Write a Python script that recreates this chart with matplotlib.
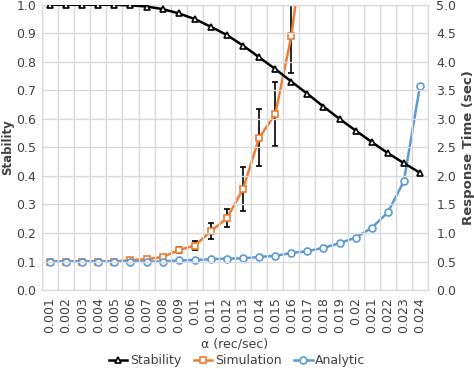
import matplotlib

matplotlib.use("Agg")
import matplotlib.pyplot as plt
import numpy as np

# alpha categories (rec/sec)
alpha_labels = ["0.001", "0.002", "0.003", "0.004", "0.005", "0.006", "0.007", "0.008",
                "0.009", "0.01", "0.011", "0.012", "0.013", "0.014", "0.015", "0.016",
                "0.017", "0.018", "0.019", "0.02", "0.021", "0.022", "0.023", "0.024"]

stability = [1.0, 1.0, 1.0, 1.0, 1.0, 0.998, 0.994, 0.985, 0.97, 0.95, 0.923, 0.894,
             0.857, 0.816, 0.775, 0.731, 0.688, 0.643, 0.600, 0.559, 0.519, 0.48, 0.445, 0.411]

# response time (sec), right axis
simulation = [0.5, 0.5, 0.5, 0.5, 0.5, 0.525, 0.54, 0.58, 0.70, 0.78, 1.03, 1.26,
              1.77, 2.67, 3.08, 4.45, 6.6]
sim_err = [0.0, 0.0, 0.0, 0.0, 0.0, 0.0, 0.0, 0.02, 0.05, 0.08, 0.14, 0.16,
           0.38, 0.5, 0.56, 0.64, 0.0]
analytic = [0.5, 0.5, 0.5, 0.5, 0.5, 0.5, 0.5, 0.5, 0.52, 0.525, 0.54, 0.55,
            0.555, 0.58, 0.60, 0.65, 0.68, 0.74, 0.82, 0.92, 1.09, 1.36, 1.91, 3.58]

BLACK = "#000000"
ORANGE = "#ED7D31"
BLUE = "#5B9BD5"
GRID = "#D9D9D9"
TEXT = "#404040"

plt.rcParams["font.family"] = ["DejaVu Sans"]

fig = plt.figure(figsize=(4.74, 3.69), dpi=100)
ax = fig.add_axes([0.0886, 0.214, 0.8144, 0.773])
ax2 = ax.twinx()

x = np.arange(len(alpha_labels))

ax.plot(x, stability, color=BLACK, lw=1.8, marker="^", ms=5, mfc="white",
        mec=BLACK, mew=1.2, label="Stability", zorder=5)

xs = np.arange(len(simulation))
ax2.errorbar(xs, simulation, yerr=sim_err, fmt="none", ecolor=BLACK, elinewidth=1.2,
             capsize=2, capthick=1.2, zorder=2)
ax2.plot(xs, simulation, color=ORANGE, lw=1.8, marker="s", ms=5, mfc="white",
         mec=ORANGE, mew=1.2, label="Simulation", zorder=3)
ax2.plot(x, analytic, color=BLUE, lw=1.8, marker="o", ms=5, mfc="white",
         mec=BLUE, mew=1.2, label="Analytic", zorder=4)

ax.set_zorder(ax2.get_zorder() + 1)
ax.patch.set_visible(False)

ax.set_xlim(-0.5, len(alpha_labels) - 0.5)
ax.set_ylim(0, 1.0)
ax2.set_ylim(0, 5.0)

ax.set_xticks(x)
ax.set_xticklabels(alpha_labels, rotation=90, fontsize=9, color=TEXT)
ax.set_xticks(np.arange(-0.5, len(alpha_labels)), minor=True)
ax.set_yticks(np.arange(0, 1.01, 0.1))
ax.set_yticklabels([f"{v:.1f}" for v in np.arange(0, 1.01, 0.1)], fontsize=9, color=TEXT)
ax2.set_yticks(np.arange(0, 5.01, 0.5))
ax2.set_yticklabels([f"{v:.1f}" for v in np.arange(0, 5.01, 0.5)], fontsize=9, color=TEXT)

ax.tick_params(axis="both", which="both", length=0, pad=4)
ax.tick_params(axis="x", pad=5)
ax2.tick_params(axis="both", which="both", length=0, pad=6)

ax2.grid(False)
ax.grid(True, which="minor", axis="x", color=GRID, lw=1)
ax.grid(True, which="major", axis="y", color=GRID, lw=1)
ax.set_axisbelow(True)

for a in (ax, ax2):
    for s in a.spines.values():
        s.set_color(GRID)

ax.set_ylabel("Stability", fontsize=8.5, fontweight="bold", color=TEXT, labelpad=2)
ax2.set_ylabel("Response Time (sec)", fontsize=9.5, fontweight="bold", color=TEXT, labelpad=4)
ax.set_xlabel("α (rec/sec)", fontsize=9, color=TEXT, labelpad=3)

h1, l1 = ax.get_legend_handles_labels()
h2, l2 = ax2.get_legend_handles_labels()
fig.legend(h1 + h2, l1 + l2, loc="lower center", bbox_to_anchor=(0.5, -0.025), ncol=3,
           frameon=False, fontsize=9, handlelength=1.5, handletextpad=0.2,
           columnspacing=1.0, labelcolor=TEXT)

fig.savefig("out.png", dpi=100)
